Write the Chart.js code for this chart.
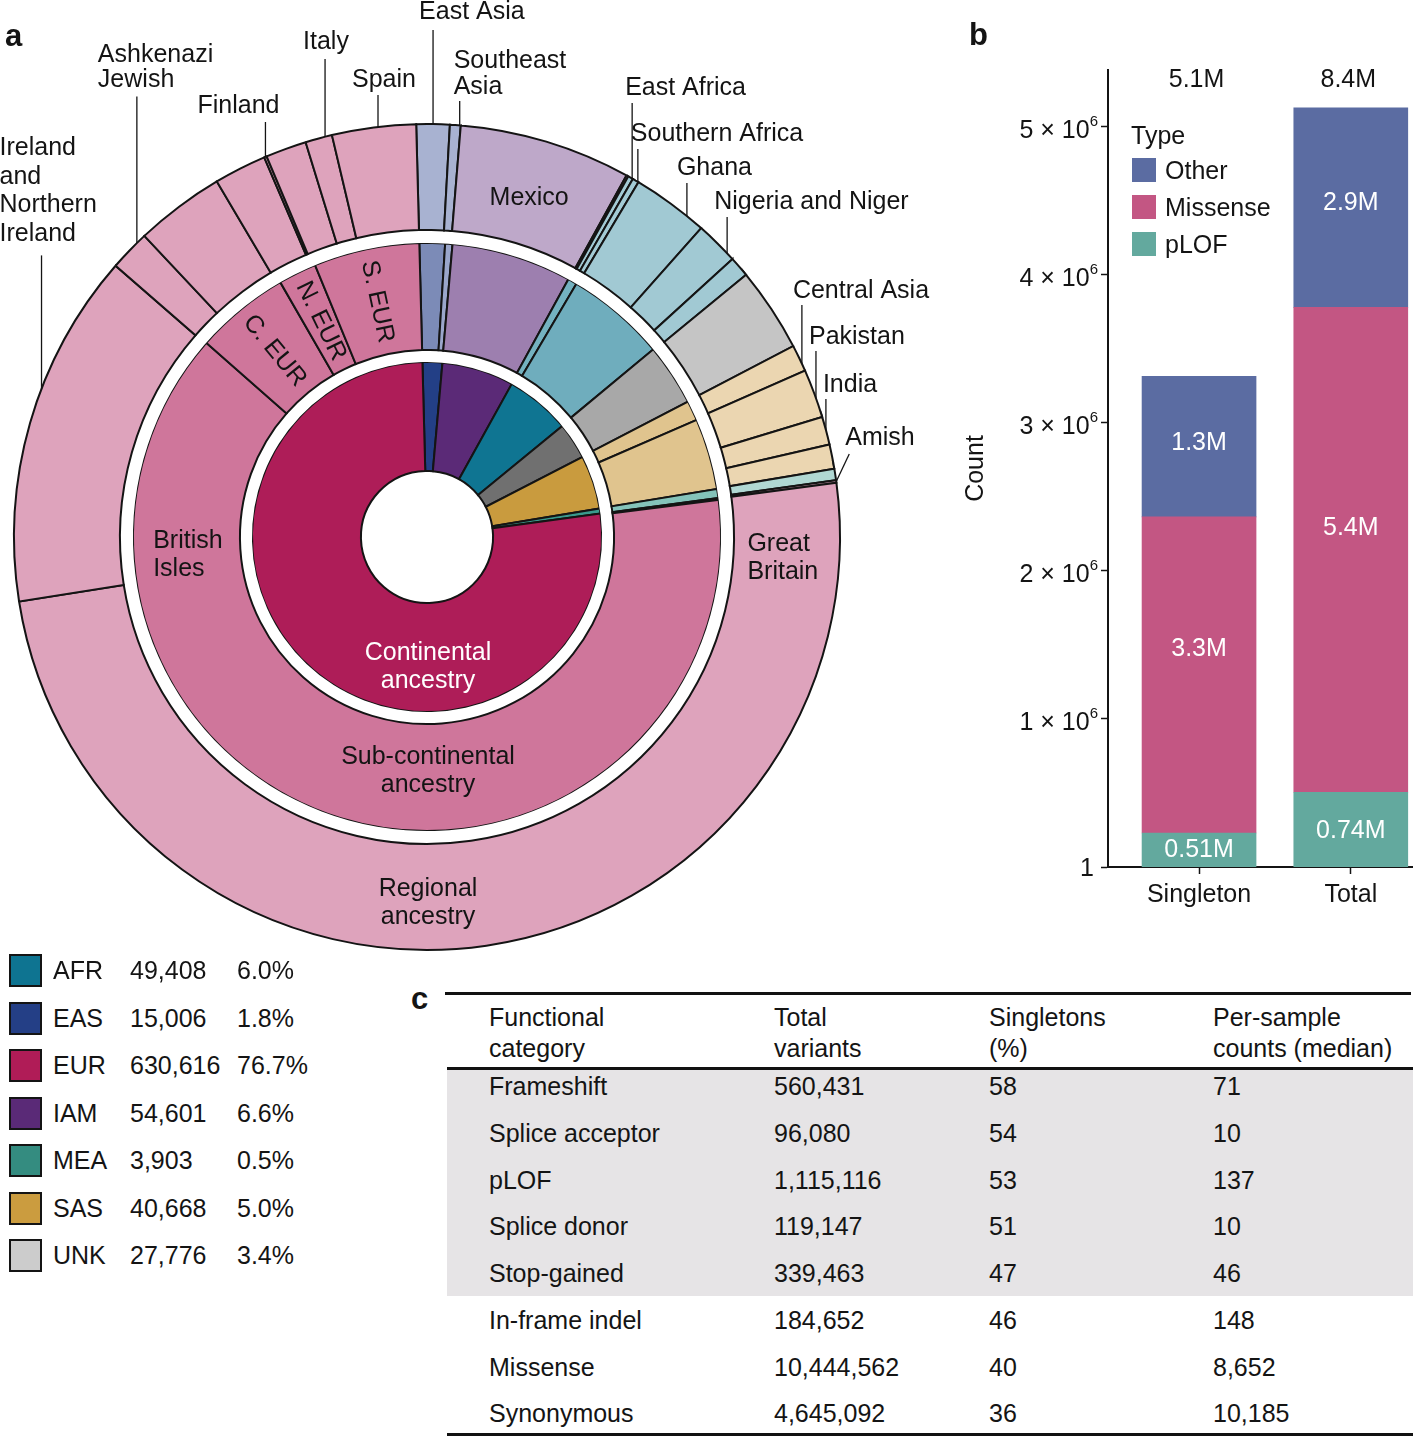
<!DOCTYPE html>
<html><head><meta charset="utf-8"><title>Ancestry composition and variant counts</title>
<script src="https://cdn.jsdelivr.net/npm/chart.js@4.4.1/dist/chart.umd.min.js"></script>
<style>
html,body{margin:0;padding:0;background:#fff}
body{position:relative;width:1413px;height:1436px;overflow:hidden;font-family:'Liberation Sans',Arial,Helvetica,sans-serif;color:#141414}
canvas{position:absolute}
#sun{left:0;top:0}
#bars{left:955px;top:0}
.t{position:absolute;white-space:nowrap;font-size:25px;line-height:28px;transform:translateY(-50%)}
.panel{position:absolute;font-weight:bold;font-size:31px;line-height:1}
.sw{position:absolute;box-sizing:border-box}
.rule{position:absolute;background:#111}
.shade{position:absolute;background:#e6e4e6}
</style></head><body>
<canvas id="sun" width="950" height="960"></canvas>
<canvas id="bars" width="458" height="960"></canvas>
<div id="overlay"></div>
<script>
const FONT = "'Liberation Sans', Arial, Helvetica, sans-serif";
const FS = 25;
Chart.defaults.font.family = FONT;
Chart.defaults.font.size = FS;
Chart.defaults.color = '#141414';

/* ---------- Panel a data ---------- */
const continentalLabels = ['EAS','IAM','AFR','UNK','SAS','MEA','EUR'];
const continentalCounts = [15006, 54601, 49408, 27776, 40668, 3903, 630616];
const continentalColors = ['#233f86','#5b2a77','#0f7592','#707070','#c99b3e','#3a9a8d','#ae1d58'];

const subLabels = ['East Asian','Southeast Asian','Indigenous American','East African','West African','Unassigned',
  'Central Asian','South Asian','Middle Eastern','Other European','British Isles','C. EUR','N. EUR','S. EUR'];
const subShares = [1.4, 0.4, 6.6, 0.5, 5.5, 3.4, 1.1, 3.9, 0.5, 0.1, 63.5, 5.2, 2.1, 5.8];
const subColors = ['#7c8bb7','#9aa6cb','#9d7faf','#74b2c0','#6fadbd','#a8a8a8',
  '#e0c48e','#e0c48e','#84c3ba','#cf769b','#cf769b','#cf769b','#cf769b','#cf769b'];

const regionLabels = ['East Asia','Southeast Asia','Mexico','Other American','East Africa','Southern Africa','Ghana',
  'Nigeria and Niger','Other African','Unassigned','Central Asia','Pakistan','India','Other South Asian','Middle East',
  'Amish','Great Britain','Ireland and Northern Ireland','Ashkenazi Jewish','Other central European',
  'Other northern European','Finland','Other southern European','Italy','Spain'];
const regionShares = [1.3, 0.42, 6.72, 0.08, 0.2, 0.25, 3.0, 1.7, 0.8, 3.3, 1.05, 1.9, 1.1, 0.95, 0.45,
  0.1, 49.6, 13.9, 1.6, 3.5, 2.05, 0.1, 1.6, 1.05, 3.28];
const regionColors = ['#a8b2d1','#a8b2d1','#bea8c9','#bea8c9','#a3cbd5','#a3cbd5','#a1c9d3','#a1c9d3','#a1c9d3',
  '#c5c5c5','#ebd6b1','#ebd6b1','#ebd6b1','#ebd6b1','#b0d8d3',
  '#dea3bc','#dea3bc','#dea3bc','#dea3bc','#dea3bc','#dea3bc','#dea3bc','#dea3bc','#dea3bc','#dea3bc'];

const legendCodes = ['AFR','EAS','EUR','IAM','MEA','SAS','UNK'];
const legendPercents = ['6.0%','1.8%','76.7%','6.6%','0.5%','5.0%','3.4%'];
const legendColors = ['#0e7491','#243f86','#b01c57','#5a2a77','#348c80','#cb9c3f','#cccccc'];

/* ---------- Panel b data ---------- */
const barCategories = ['Singleton','Total'];
const pLOFCounts = [230000, 505000];
const missenseCounts = [2136000, 3276000];
const otherCounts = [949000, 1349000];
const pLOFText = ['0.51M','0.74M'];
const missenseText = ['3.3M','5.4M'];
const otherText = ['1.3M','2.9M'];
const totalText = ['5.1M','8.4M'];
const yTickValues = [1, 1e6, 2e6, 3e6, 4e6, 5e6];
const typeNames = ['Other','Missense','pLOF'];

/* ---------- Panel c data ---------- */
const tableHeaders = [['Functional','category'],['Total','variants'],['Singletons','(%)'],['Per-sample','counts (median)']];
const funcCategories = ['Frameshift','Splice acceptor','pLOF','Splice donor','Stop-gained','In-frame indel','Missense','Synonymous'];
const totalVariants = [560431, 96080, 1115116, 119147, 339463, 184652, 10444562, 4645092];
const singletonPct = [58, 54, 53, 51, 47, 46, 40, 36];
const perSampleMedian = [71, 10, 137, 10, 46, 148, 8652, 10185];
const shadedRowCount = 5;

/* ---------- layout (not data) ---------- */
const calloutLayout = [
 {name:'Ireland and Northern Ireland', lines:['Ireland','and','Northern','Ireland'], f:0.6, ty:148, lh:28.8, dx:-42, gap:21},
 {name:'Ashkenazi Jewish', lines:['Ashkenazi','Jewish'], f:0.75, ty:55, lh:25.5, dx:-39, gap:16},
 {name:'Finland', lines:['Finland'], f:0.5, ty:106, dx:-68, gap:16},
 {name:'Italy', lines:['Italy'], f:0.74, ty:42, dx:-22, gap:17},
 {name:'Spain', lines:['Spain'], f:0.55, ty:80, dx:-26, gap:15},
 {name:'East Asia', lines:['East Asia'], f:0.5, ty:12, dx:-14, gap:18},
 {name:'Southeast Asia', lines:['Southeast','Asia'], f:0.9, ty:61, lh:26, dx:-6, gap:14},
 {name:'East Africa', lines:['East Africa'], f:0.85, ty:88, dx:-7, gap:15},
 {name:'Southern Africa', lines:['Southern Africa'], f:0.9, ty:134, dx:-7, gap:15},
 {name:'Ghana', lines:['Ghana'], f:0.76, ty:168, dx:-10, gap:15},
 {name:'Nigeria and Niger', lines:['Nigeria and Niger'], f:0.82, ty:202, dx:-13, gap:15},
 {name:'Central Asia', lines:['Central Asia'], f:0.72, ty:291, dx:-9, gap:14},
 {name:'Pakistan', lines:['Pakistan'], f:0.6, ty:337, dx:-7, gap:14},
 {name:'India', lines:['India'], f:0.48, ty:385, dx:-3, gap:14},
 {name:'Amish', lines:['Amish'], f:0.5, ty:438, dx:-4, kx:13, gap:16}
];
const ringTextLayout = [
 {ds:2, names:subLabels, name:'C. EUR', rotate:true},
 {ds:2, names:subLabels, name:'N. EUR', rotate:true},
 {ds:2, names:subLabels, name:'S. EUR', rotate:true},
 {ds:0, names:regionLabels, name:'Mexico', lines:['Mexico'], f:0.5, rf:0.44, align:'center', dx:0, dy:0},
 {ds:2, names:subLabels, name:'British Isles', lines:['British','Isles'], f:0.8, rf:0.5, align:'left', dx:-34, dy:-14},
 {ds:0, names:regionLabels, name:'Great Britain', lines:['Great','Britain'], f:0.061, rf:0.5, align:'left', dx:-39, dy:-14}
];
const ringTitles = [
 {ds:4, lines:['Continental','ancestry'], color:'#ffffff', dy:-4.5},
 {ds:2, lines:['Sub-continental','ancestry'], color:'#141414', dy:-20.5},
 {ds:0, lines:['Regional','ancestry'], color:'#141414', dy:-8}
];

function arcPoint(chart, ds, idx, f, rf){
  const el = chart.getDatasetMeta(ds).data[idx];
  const p = el.getProps(['x','y','startAngle','endAngle','innerRadius','outerRadius'], true);
  const a = p.startAngle + f*(p.endAngle - p.startAngle);
  const r = p.innerRadius + rf*(p.outerRadius - p.innerRadius);
  return {x:p.x + Math.cos(a)*r, y:p.y + Math.sin(a)*r, a:a, p:p};
}

const sunburstText = {
  id:'sunburstText',
  afterDatasetsDraw(chart){
    const ctx = chart.ctx;
    ctx.save();
    ctx.font = FS + 'px ' + FONT;
    ctx.textBaseline = 'middle';
    ctx.fillStyle = '#141414';
    ctx.strokeStyle = '#141414';
    ctx.lineWidth = 1.3;
    calloutLayout.forEach(c => {
      const pt = arcPoint(chart, 0, regionLabels.indexOf(c.name), c.f, 1);
      const lh = c.lh || 28;
      const topY = c.ty + (c.lines.length - 1)*lh + c.gap;
      const lx = pt.x + (c.kx || 0);
      ctx.beginPath(); ctx.moveTo(pt.x, pt.y); ctx.lineTo(lx, topY); ctx.stroke();
      ctx.textAlign = 'left';
      c.lines.forEach((t,i) => ctx.fillText(t, lx + c.dx, c.ty + i*lh));
    });
    ringTextLayout.forEach(r => {
      const idx = r.names.indexOf(r.name);
      if (r.rotate){
        const pt = arcPoint(chart, r.ds, idx, 0.5, 0.5);
        ctx.save();
        ctx.translate(pt.x, pt.y);
        ctx.rotate(pt.a + Math.PI);
        ctx.textAlign = 'center';
        ctx.fillText(r.name, 0, 0);
        ctx.restore();
      } else {
        const pt = arcPoint(chart, r.ds, idx, r.f, r.rf);
        ctx.textAlign = r.align;
        r.lines.forEach((t,i) => ctx.fillText(t, pt.x + r.dx, pt.y + r.dy + i*28));
      }
    });
    ringTitles.forEach(r => {
      const el = chart.getDatasetMeta(r.ds).data[0];
      const p = el.getProps(['x','y','innerRadius','outerRadius'], true);
      const rm = (p.innerRadius + p.outerRadius)/2;
      ctx.fillStyle = r.color;
      ctx.textAlign = 'center';
      r.lines.forEach((t,i) => ctx.fillText(t, p.x + 1, p.y + rm + r.dy + i*28));
    });
    ctx.restore();
  }
};

const ringStyle = {borderColor:'#141414', borderWidth:2, hoverOffset:0, borderJoinStyle:'miter'};
new Chart(document.getElementById('sun'), {
  type:'doughnut',
  data:{
    labels: regionLabels,
    datasets:[
      Object.assign({label:'Regional ancestry', data:regionShares, backgroundColor:regionColors, weight:106}, ringStyle),
      {label:'gap outer', data:[1], backgroundColor:'#ffffff', borderWidth:0, weight:13},
      Object.assign({label:'Sub-continental ancestry', data:subShares, backgroundColor:subColors, weight:107}, ringStyle),
      {label:'gap inner', data:[1], backgroundColor:'#ffffff', borderWidth:0, weight:12},
      Object.assign({label:'Continental ancestry', data:continentalCounts, backgroundColor:continentalColors, weight:109}, ringStyle)
    ]
  },
  options:{
    responsive:false, animation:false, events:[],
    radius:413, cutout:'16%', rotation:-1.5,
    layout:{padding:{left:0, right:96, top:114, bottom:0}},
    plugins:{legend:{display:false}, tooltip:{enabled:false}}
  },
  plugins:[sunburstText]
});

/* ---------- Panel b chart ---------- */
const barSeries = [
  {label:'pLOF', data:pLOFCounts, color:'#63a99e', text:pLOFText},
  {label:'Missense', data:missenseCounts, color:'#c35683', text:missenseText},
  {label:'Other', data:otherCounts, color:'#5b6ca2', text:otherText}
];
const barLabelFrac = [[0.5,0.48],[0.58,0.545],[0.526,0.52]];
const typeColors = {Other:'#5b6ca2', Missense:'#c35683', pLOF:'#63a99e'};

const barText = {
  id:'barText',
  afterDatasetsDraw(chart){
    const ctx = chart.ctx;
    ctx.save();
    ctx.font = FS + 'px ' + FONT;
    ctx.textAlign = 'center';
    ctx.textBaseline = 'middle';
    barSeries.forEach((s,di) => {
      chart.getDatasetMeta(di).data.forEach((el,i) => {
        const p = el.getProps(['x','y','base'], true);
        ctx.fillStyle = '#ffffff';
        ctx.fillText(s.text[i], p.x, p.base - barLabelFrac[di][i]*(p.base - p.y));
      });
    });
    ctx.fillStyle = '#141414';
    chart.getDatasetMeta(0).data.forEach((el,i) => ctx.fillText(totalText[i], el.x - 2.5, chart.chartArea.top + 10));
    const ys = chart.scales.y;
    const xr = ys.right - 10;
    ctx.textAlign = 'right';
    yTickValues.forEach(v => {
      const py = ys.getPixelForValue(v);
      if (v < 1e6){ ctx.font = FS + 'px ' + FONT; ctx.fillText(String(v), xr - 4, py + 2); return; }
      ctx.font = '15px ' + FONT;
      const sw = ctx.measureText('6').width;
      ctx.fillText('6', xr, py - 5);
      ctx.font = FS + 'px ' + FONT;
      ctx.fillText((v/1e6) + ' \u00d7 10', xr - sw, py + 4);
    });
    ctx.restore();
  }
};

new Chart(document.getElementById('bars'), {
  type:'bar',
  data:{
    datasets: barSeries.map(s => ({
      label:s.label,
      data:s.data.map((v,i) => ({x:i+1, y:v})),
      backgroundColor:s.color, borderWidth:0, barThickness:114
    }))
  },
  options:{
    responsive:false, animation:false, events:[],
    layout:{padding:{left:0, right:0, top:70, bottom:0}},
    plugins:{legend:{display:false}, tooltip:{enabled:false}},
    scales:{
      x:{
        type:'linear', min:0.4, max:2.41, stacked:true, offset:false,
        afterBuildTicks: s => { s.ticks = barCategories.map((c,i) => ({value:i+1})); },
        ticks:{callback:v => barCategories[v-1] || '', font:{size:FS}, color:'#141414', padding:6, autoSkip:false, maxRotation:0},
        grid:{display:true, offset:false, drawOnChartArea:false, drawTicks:true, tickLength:7, tickColor:'#141414', tickWidth:1.5},
        border:{display:true, color:'#141414', width:2},
        afterFit: s => { s.height = 93; }
      },
      y:{
        type:'linear', min:1, max:5.385e6, stacked:true,
        afterBuildTicks: s => { s.ticks = yTickValues.map(v => ({value:v})); },
        ticks:{display:false},
        grid:{display:true, offset:false, drawOnChartArea:false, drawTicks:true, tickLength:7, tickColor:'#141414', tickWidth:1.5},
        border:{display:true, color:'#141414', width:2},
        title:{display:true, text:'Count', font:{size:FS}, color:'#141414', padding:{top:6, bottom:0}},
        afterFit: s => { s.width = 153; }
      }
    }
  },
  plugins:[barText]
});

/* ---------- HTML overlays: panel letters, legends, table ---------- */
const ov = document.getElementById('overlay');
function add(cls, x, y, html, extra){
  const d = document.createElement('div');
  d.className = cls;
  d.style.left = x + 'px'; d.style.top = y + 'px';
  if (html !== undefined) d.innerHTML = html;
  if (extra) Object.assign(d.style, extra);
  ov.appendChild(d);
  return d;
}
add('panel', 5, 20, 'a');
add('panel', 969, 19, 'b');
add('panel', 411, 983, 'c');

const fmt = n => n.toLocaleString('en-US');
legendCodes.forEach((code,i) => {
  const y = 970 + i*47.5;
  add('sw', 9, y - 16, undefined, {width:'33px', height:'33px', background:legendColors[i], border:'2px solid #141414'});
  add('t', 53, y, code);
  add('t', 130, y, fmt(continentalCounts[continentalLabels.indexOf(code)]));
  add('t', 237, y, legendPercents[i]);
});

add('t', 1131, 135, 'Type');
typeNames.forEach((n,i) => {
  const y = 170 + i*37;
  add('sw', 1132, y - 12, undefined, {width:'24px', height:'24px', background:typeColors[n]});
  add('t', 1165, y, n);
});

const colX = [489, 774, 989, 1213];
add('rule', 445, 992, undefined, {width:'966px', height:'2.5px'});
tableHeaders.forEach((h,c) => { h.forEach((t,k) => add('t', colX[c], 1017 + k*30.5, t)); });
add('shade', 447, 1069, undefined, {width:'966px', height:'227px'});
add('rule', 447, 1067, undefined, {width:'966px', height:'2.5px'});
funcCategories.forEach((name,i) => {
  const y = 1086 + i*46.75;
  add('t', colX[0], y, name);
  add('t', colX[1], y, fmt(totalVariants[i]));
  add('t', colX[2], y, String(singletonPct[i]));
  add('t', colX[3], y, fmt(perSampleMedian[i]));
});
add('rule', 447, 1433, undefined, {width:'966px', height:'2.5px'});
</script>
</body></html>
